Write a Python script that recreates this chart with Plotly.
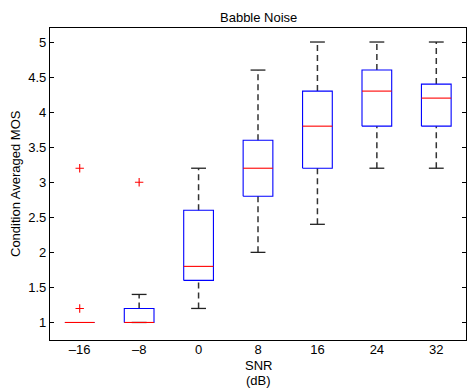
import plotly.graph_objects as go

snr_labels = ["–16", "–8", "0", "8", "16", "24", "32"]
q1 = [1.0, 1.0, 1.6, 2.8, 3.2, 3.8, 3.8]
median = [1.0, 1.0, 1.8, 3.2, 3.8, 4.3, 4.2]
q3 = [1.0, 1.2, 2.6, 3.6, 4.3, 4.6, 4.4]
lower_whisker = [1.0, 1.0, 1.2, 2.0, 2.4, 3.2, 3.2]
upper_whisker = [1.0, 1.4, 3.2, 4.6, 5.0, 5.0, 5.0]
outlier_group = [1, 1, 2]
outlier_value = [3.2, 1.2, 3.0]

pos = list(range(1, len(snr_labels) + 1))
bw = 0.25   # half box width
cw = 0.125  # half cap width

wx, wy, cx, cy, bx, by, mx, my = [], [], [], [], [], [], [], []
for p, a, m, b, lo, hi in zip(pos, q1, median, q3, lower_whisker, upper_whisker):
    if hi > b:
        wx += [p, p, None]; wy += [b, hi, None]
    if lo < a:
        wx += [p, p, None]; wy += [lo, a, None]
    if hi > b or lo < a:
        cx += [p - cw, p + cw, None]; cy += [hi, hi, None]
        cx += [p - cw, p + cw, None]; cy += [lo, lo, None]
    bx += [p - bw, p + bw, p + bw, p - bw, p - bw, None]
    by += [a, a, b, b, a, None]
    mx += [p - bw, p + bw, None]; my += [m, m, None]

fig = go.Figure()
fig.add_trace(go.Scatter(x=wx, y=wy, mode="lines", line=dict(color="#333333", width=1.5, dash="6px,4px"), hoverinfo="skip"))
fig.add_trace(go.Scatter(x=cx, y=cy, mode="lines", line=dict(color="#222222", width=1.3), hoverinfo="skip"))
fig.add_trace(go.Scatter(x=bx, y=by, mode="lines", line=dict(color="#0000ff", width=1.1), hoverinfo="skip"))
fig.add_trace(go.Scatter(x=mx, y=my, mode="lines", line=dict(color="#ff0000", width=1.1), hoverinfo="skip"))
fig.add_trace(go.Scatter(x=outlier_group, y=outlier_value, mode="markers",
                         marker=dict(symbol="cross-thin-open", size=6, color="#ff0000",
                                     line=dict(color="#ff0000", width=1.1)),
                         hoverinfo="skip"))

font = dict(family="Liberation Sans, Arial, Helvetica, sans-serif", size=13, color="black")
fig.update_layout(
    width=474, height=388,
    margin=dict(l=50, r=8, t=28, b=48),
    paper_bgcolor="white", plot_bgcolor="white",
    showlegend=False,
    font=font,
    xaxis=dict(range=[0.5, 7.5], tickmode="array", tickvals=pos, ticktext=snr_labels, ticklabelstandoff=-3,
               showline=True, linecolor="black", linewidth=1.3, mirror=True, ticks="", showgrid=False, zeroline=False),
    yaxis=dict(range=[0.75, 5.2], tickmode="array", tickvals=[1, 1.5, 2, 2.5, 3, 3.5, 4, 4.5, 5],
               ticktext=["1", "1.5", "2", "2.5", "3", "3.5", "4", "4.5", "5"],
               showline=True, linecolor="black", linewidth=1.3, mirror="ticks", ticks="inside", ticklen=4,
               tickcolor="black", showgrid=False, zeroline=False),
    annotations=[
        dict(text="Babble Noise", xref="paper", yref="paper", x=0.5, y=1, yshift=11, showarrow=False,
             xanchor="center", yanchor="middle", font=font),
        dict(text="SNR", xref="paper", yref="paper", x=0.5, y=0, yshift=-25, showarrow=False,
             xanchor="center", yanchor="middle", font=font, borderpad=0),
        dict(text="(dB)", xref="paper", yref="paper", x=0.5, y=0, yshift=-40, showarrow=False,
             xanchor="center", yanchor="middle", font=font, borderpad=0),
        dict(text="Condition Averaged MOS", xref="paper", yref="paper", x=0, xshift=-35, y=0.5,
             showarrow=False, textangle=-90, xanchor="center", yanchor="middle", font=font),
    ],
)
fig.write_html("out.html", config={"displayModeBar": False},
               post_script="document.body.style.margin='0';")
